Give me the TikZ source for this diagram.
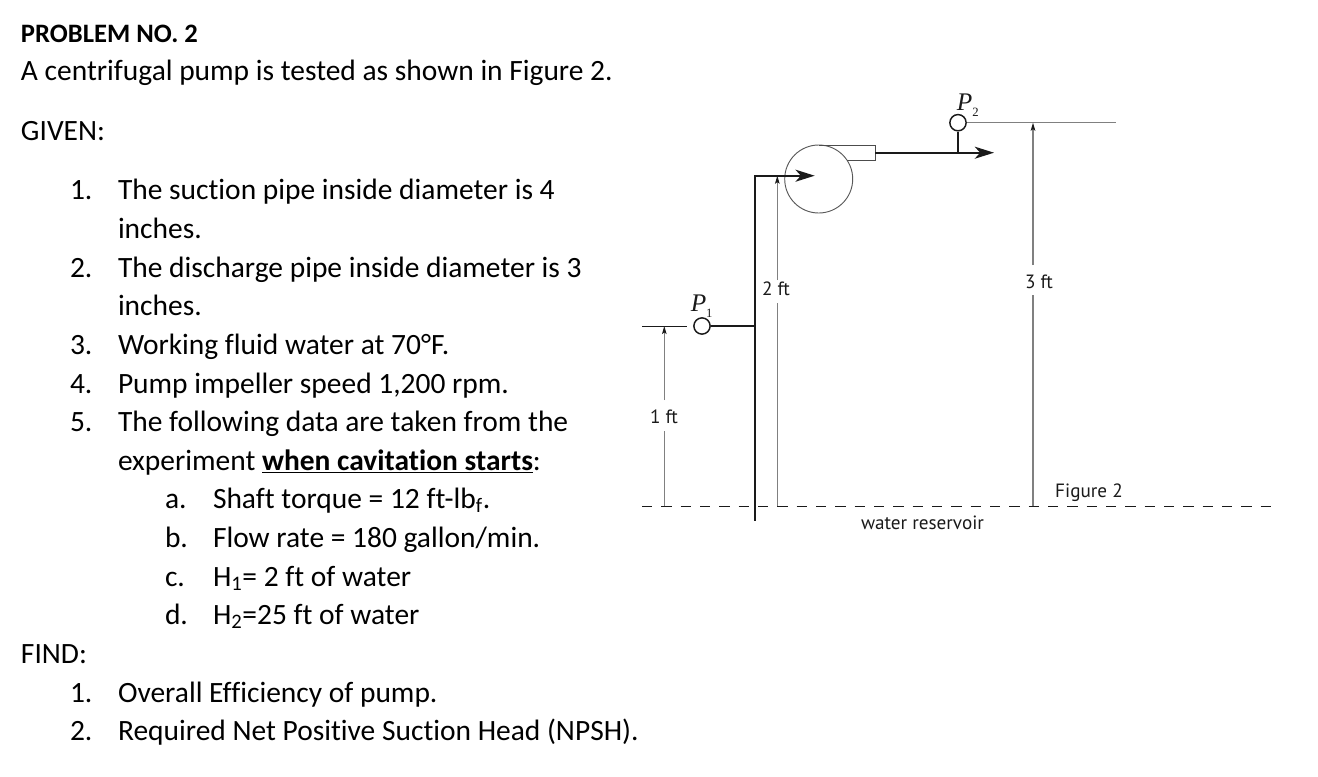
\documentclass[tikz,border=0pt]{standalone}
\usepackage{fontspec}
\setmainfont[Ligatures=NoCommon]{Carlito}
\newfontfamily\figfont[Ligatures=NoCommon]{PT Sans}
\newfontfamily\pfont{Liberation Serif}
\usetikzlibrary{arrows.meta}
\definecolor{inkc}{HTML}{1A1A1A}
\definecolor{dimc}{HTML}{808080}
\newcommand{\pressure}[1]{{\itshape P}\raisebox{-4.6pt}{\upshape\fontsize{9.5}{10}\selectfont #1}}
\tikzset{
  txt/.style={anchor=base west,inner sep=0pt,outer sep=0pt,text=black,font=\fontsize{22.1}{26}\selectfont},
  boldtxt/.style={txt,font=\fontsize{19.95}{24}\selectfont\bfseries},
  figlabel/.style={inner sep=0pt,text=inkc,font=\figfont\fontsize{14.4}{17}\selectfont},
  plabel/.style={anchor=base west,inner sep=0pt,text=inkc,font=\pfont\fontsize{19}{21}\selectfont},
  pipe/.style={draw=inkc,line width=1.5pt},
  pipearrow/.style={pipe,-{Stealth[length=14.4pt,width=9pt,inset=4pt]}},
  thinline/.style={draw=dimc,line width=0.8pt},
  dimline/.style={thinline,-{Stealth[length=6pt,width=3.4pt,inset=1.2pt,color=inkc]}},
  gauge/.style={circle,draw=inkc,line width=1.1pt,fill=white,minimum size=12.2pt,inner sep=0pt},
  pumpbody/.style={circle,draw=black!65,line width=0.7pt,minimum size=51pt,inner sep=0pt},
  outline/.style={draw=black!70,line width=0.7pt},
  waterline/.style={draw=inkc,line width=0.7pt,dash pattern=on 7.8pt off 6.7pt}
}
\begin{document}
\begin{tikzpicture}[x=0.75pt,y=-0.75pt]
\useasboundingbox (0,0) rectangle (1318,776);
% --- text ---
\node[boldtxt] (t1) at (21,42) {PROBLEM NO. 2};
\node[txt] (t2) at (21,80.8) {A centrifugal pump is tested as shown in Figure 2.};
\node[txt] (t3) at (21,140.5) {GIVEN:};
\node[txt] (n1) at (70,199.8) {1.};
\node[txt] (l1) at (118,199.8) {The suction pipe inside diameter is 4};
\node[txt] (l1b) at (118,238) {inches.};
\node[txt] (n2) at (70,277) {2.};
\node[txt] (l2) at (118,277) {The discharge pipe inside diameter is 3};
\node[txt] (l2b) at (118,315) {inches.};
\node[txt] (n3) at (70,354) {3.};
\node[txt] (l3) at (118,354) {Working fluid water at 70°F.};
\node[txt] (n4) at (70,393) {4.};
\node[txt] (l4) at (118,393) {Pump impeller speed 1,200 rpm.};
\node[txt] (n5) at (70,431) {5.};
\node[txt] (l5) at (118,431) {The following data are taken from the};
\node[txt] (l5b) at (118,470) {experiment \underline{\textbf{when cavitation starts}}:};
\node[txt] (ma) at (165,508) {a.};
\node[txt] (la) at (213,508) {Shaft torque = 12 ft-lb\textsubscript{f}.};
\node[txt] (mb) at (165,547) {b.};
\node[txt] (lb) at (213,547) {Flow rate = 180 gallon/min.};
\node[txt] (mc) at (165,586) {c.};
\node[txt] (lc) at (213,586) {H\textsubscript{1}= 2 ft of water};
\node[txt] (md) at (165,624) {d.};
\node[txt] (ld) at (213,624) {H\textsubscript{2}=25 ft of water};
\node[txt] (t4) at (21,663) {FIND:};
\node[txt] (f1n) at (70,702) {1.};
\node[txt] (f1) at (118,702) {Overall Efficiency of pump.};
\node[txt] (f2n) at (70,740) {2.};
\node[txt] (f2) at (118,740) {Required Net Positive Suction Head (NPSH).};
% --- anchors ---
\coordinate (wl) at (642,506);
\coordinate (wr) at (1275,506);
\coordinate (sb) at (754.7,520.7);
\coordinate (sc) at (754.7,175.7);
\coordinate (st) at (814.7,175.7);
\coordinate (sj) at (754.7,326);
\coordinate (dd) at (875.3,152.7);
\coordinate (dt) at (994,152.7);
\coordinate (dj) at (958,152.7);
\coordinate (rtl) at (818.7,145.3);
\coordinate (rtr) at (875.3,145.3);
\coordinate (rbr) at (875.3,160.3);
\coordinate (rbl) at (846.7,160.3);
\coordinate (p1l) at (642,326);
\coordinate (p1e) at (687,326);
\coordinate (p2e) at (1116,122.7);
\coordinate (a1b) at (664.3,506);
\coordinate (a1g) at (664.3,430.7);
\coordinate (a1h) at (664.3,400);
\coordinate (a1t) at (664.3,326);
\coordinate (a2b) at (777.3,506);
\coordinate (a2g) at (777.3,303);
\coordinate (a2h) at (777.3,280);
\coordinate (a2t) at (777.3,175.7);
\coordinate (a3b) at (1033,506);
\coordinate (a3g) at (1033,295);
\coordinate (a3h) at (1033,265);
\coordinate (a3t) at (1033,122.7);
% --- figure nodes ---
\node[pumpbody] (pump) at (818.7,179) {};
\node[gauge] (g1) at (702,326) {};
\node[gauge] (g2) at (958,122.7) {};
\node[plabel] (p1) at (690.5,311.5) {\pressure{1}};
\node[plabel] (p2) at (956.5,110) {\pressure{2}};
\node[figlabel] (d1) at (664,417) {1 ft};
\node[figlabel] (d2) at (776,289) {2 ft};
\node[figlabel] (d3) at (1039,282) {3 ft};
\node[figlabel] (res) at (922.5,523) {water reservoir};
\node[figlabel] (fig) at (1089,492.5) {Figure 2};
% --- water line ---
\draw[waterline] (wl) -- (wr);
% --- pipes ---
\draw[outline] (rtl) -- (rtr) -- (rbr) -- (rbl);
\draw[pipe] (sb) -- (sc) -- ++(10,0);
\draw[pipearrow] (sc) -- (st);
\draw[pipe] (g1) -- (sj);
\draw[pipearrow] (dd) -- (dt);
\draw[pipe,line width=1.1pt] (g2) -- (dj);
% --- level lines ---
\draw[draw=inkc,line width=0.6pt] (p1l) -- (p1e);
\draw[thinline] (g2) -- (p2e);
% --- dimension lines, broken around their labels ---
\draw[thinline] (a1b) -- (a1g);
\draw[dimline] (a1h) -- (a1t);
\draw[thinline] (a2b) -- (a2g);
\draw[dimline] (a2h) -- (a2t);
\draw[thinline] (a3b) -- (a3g);
\draw[dimline] (a3h) -- (a3t);
\end{tikzpicture}
\end{document}
